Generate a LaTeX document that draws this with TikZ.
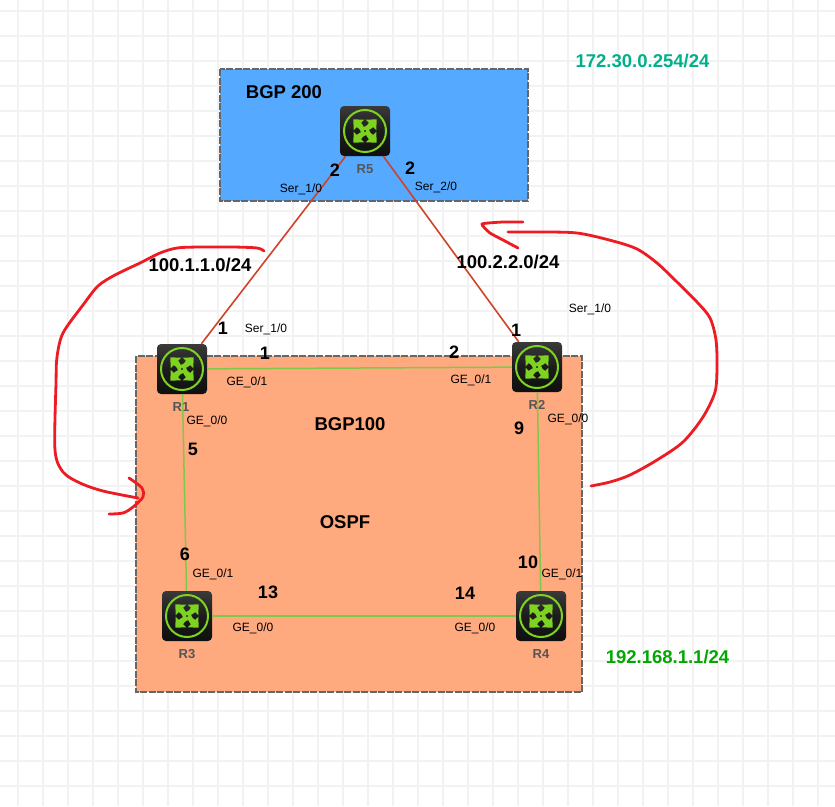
\documentclass[tikz,border=0pt]{standalone}
\usepackage{fontspec}
\setmainfont{Liberation Sans}
\usetikzlibrary{backgrounds}
\definecolor{gridc}{HTML}{F2F2F2}
\definecolor{blueb}{HTML}{55A9FF}
\definecolor{orangeb}{HTML}{FFA97E}
\definecolor{dashc}{HTML}{666666}
\definecolor{lime}{HTML}{7ED321}
\definecolor{linkg}{HTML}{7FC84A}
\definecolor{linkr}{HTML}{D0432B}
\definecolor{pen}{HTML}{ED1C24}
\definecolor{rtext}{HTML}{555555}
\definecolor{rtop}{HTML}{3A3A3A}
\definecolor{rbot}{HTML}{0F0F0F}
\definecolor{teal}{HTML}{00B08A}
\definecolor{leaf}{HTML}{00A800}
\tikzset{
  x=1pt,y=-1pt,
  area/.style={draw=dashc,line width=2pt,dash pattern=on 7pt off 1.5pt},
  router/.style={minimum size=50pt,inner sep=0pt,rounded corners=4pt,top color=rtop,bottom color=rbot,middle color=rbot!70!rtop},
  rname/.style={text=rtext,font=\bfseries\fontsize{13}{13}\selectfont,inner sep=0pt},
  iface/.style={text=black,font=\fontsize{12}{12}\selectfont,inner sep=0pt},
  num/.style={text=black,font=\bfseries\fontsize{18}{18}\selectfont,inner sep=0pt},
  title/.style={text=black,font=\bfseries\fontsize{18.5}{18.5}\selectfont,inner sep=0pt},
  serial/.style={linkr,line width=1.6pt},
  ge/.style={linkg,line width=1.5pt},
  ink/.style={pen,line width=2.8pt,line cap=round,line join=round},
}
\newcommand{\rglyph}[1]{%
  \draw[lime,line width=2pt] (#1) circle[radius=21pt];
  \foreach \ang in {45,135,225,315}{
    \begin{scope}[shift={(#1)},rotate=\ang]
      \fill[lime] (16.5,0) -- (8.5,-7.5) -- (8.5,-3) -- (5.5,-2.6) .. controls (3,-2.2) and (2,-4) .. (0.8,-5.5) -- (-1,-2.5) .. controls (0.5,-0.5) and (2.5,2.6) .. (5.5,2.6) -- (8.5,3) -- (8.5,7.5) -- cycle;
    \end{scope}
  }
}
\begin{document}
\begin{tikzpicture}
\useasboundingbox (0,0) rectangle (835,806);
\fill[white] (0,0) rectangle (835,806);
\foreach \gx in {18,43,...,843} \draw[gridc,line width=2.4pt] (\gx,0) -- (\gx,806);
\foreach \gy in {11,36,...,811} \draw[gridc,line width=2.4pt] (0,\gy) -- (835,\gy);
% areas
\path[area,fill=blueb] (220,69) rectangle (528,201);
\path[area,fill=orangeb] (136,356) rectangle (582,692);
% routers
\node[router] (R5) at (365,131) {};
\node[router] (R1) at (182,369) {};
\node[router] (R2) at (537,367) {};
\node[router] (R3) at (187,616) {};
\node[router] (R4) at (541,616) {};
\rglyph{R5}\rglyph{R1}\rglyph{R2}\rglyph{R3}\rglyph{R4}
\node[rname] (nR5) at (365,169) {R5};
\node[rname] (nR1) at (181,407) {R1};
\node[rname] (nR2) at (537,405) {R2};
\node[rname] (nR3) at (187,654) {R3};
\node[rname] (nR4) at (541,654) {R4};
% connectors
\draw[serial] (R5) -- (R1);
\draw[serial] (R5) -- (R2);
\draw[ge] (R1) -- (R2);
\draw[ge] (R1) -- (R3);
\draw[ge] (R2) -- (R4);
\draw[ge] (R3) -- (R4);
% titles
\node[title] (t1) at (284,92) {BGP 200};
\node[title] (t2) at (350,424) {BGP100};
\node[title] (t3) at (345,522) {OSPF};
\node[title] (t4) at (200,265) {100.1.1.0/24};
\node[title] (t5) at (508,262) {100.2.2.0/24};
\node[title,text=teal] (t6) at (642.5,61) {172.30.0.254/24};
\node[title,text=leaf] (t7) at (667.5,657) {192.168.1.1/24};
% numbers
\node[num] (a1) at (335,170) {2};
\node[num] (a2) at (410,168) {2};
\node[num] (a3) at (223,328) {1};
\node[num] (a4) at (265,353) {1};
\node[num] (a5) at (454,352) {2};
\node[num] (a6) at (516,330) {1};
\node[num] (a7) at (193,449) {5};
\node[num] (a8) at (519,428) {9};
\node[num] (a9) at (185,554) {6};
\node[num] (a10) at (528,562) {10};
\node[num] (a11) at (268,592) {13};
\node[num] (a12) at (465,593) {14};
% interfaces
\node[iface] (i1) at (301,189) {Ser\_1/0};
\node[iface] (i2) at (436,187) {Ser\_2/0};
\node[iface] (i3) at (266,329) {Ser\_1/0};
\node[iface] (i4) at (590,309) {Ser\_1/0};
\node[iface] (i5) at (247,382) {GE\_0/1};
\node[iface] (i6) at (471,380) {GE\_0/1};
\node[iface] (i7) at (207,421) {GE\_0/0};
\node[iface] (i8) at (568,419) {GE\_0/0};
\node[iface] (i9) at (213,574) {GE\_0/1};
\node[iface] (i10) at (562,574) {GE\_0/1};
\node[iface] (i11) at (253,628) {GE\_0/0};
\node[iface] (i12) at (475,628) {GE\_0/0};
% hand drawn arrows
\draw[ink] plot[smooth,tension=0.5] coordinates {(264,251) (257,248) (233,247) (200,247) (177,248) (160,253) (140,263) (115,275) (98,286) (83,305) (63,333) (57,357) (56,383) (55,450) (63,472) (80,483) (103,491) (138,498)};
\draw[ink] plot[smooth,tension=0.5] coordinates {(129,478) (142,488) (143,497) (133,507) (123,513) (109,514)};
\draw[ink] plot[smooth,tension=0.5] coordinates {(508,232) (537,232) (577,233) (613,241) (637,249) (657,263) (677,282) (697,302) (710,318) (716,340) (717,367) (715,392) (703,417) (683,442) (657,460) (630,475) (610,482) (591,486)};
\draw[ink] plot[smooth,tension=0.3] coordinates {(523,222) (503,222) (482,224) (490,233) (503,240) (518,248)};
\end{tikzpicture}
\end{document}
